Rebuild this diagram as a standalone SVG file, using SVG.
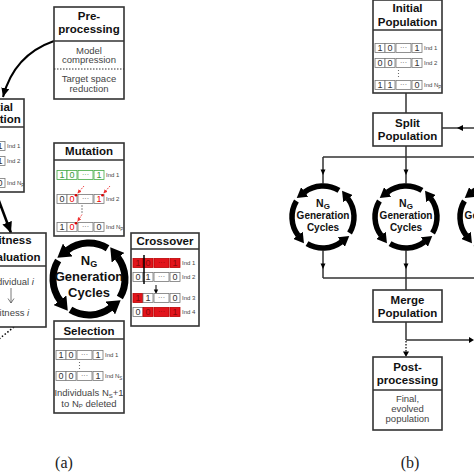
<svg xmlns="http://www.w3.org/2000/svg" width="474" height="474" viewBox="0 0 474 474">
<style>
.box{fill:#fff;stroke:#333;stroke-width:1.6}
.dv{stroke:#333;stroke-width:1.5}
.hd{font-family:"Liberation Sans",Arial,sans-serif;font-weight:bold;font-size:11.5px;fill:#111;text-anchor:middle}
.sb{font-family:"Liberation Sans",Arial,sans-serif;font-size:9.5px;fill:#444;text-anchor:middle}
.c{fill:#fff;stroke:#777;stroke-width:0.8}
.cr{fill:#e2141c;stroke:#b00;stroke-width:0.8}
.cg{fill:#fff;stroke:#4a4;stroke-width:0.8}
.d{font-family:"Liberation Sans",Arial,sans-serif;font-size:9px;fill:#333;text-anchor:middle}
.dt{font-family:"Liberation Sans",Arial,sans-serif;font-size:7px;fill:#555;text-anchor:middle}
.dr{fill:#8a0a0a}
.dgn{fill:#3a9a3a}
.dred{fill:#e00}
.el{font-family:"Liberation Sans",Arial,sans-serif;font-size:6px;fill:#444}
.ln{fill:none;stroke:#333;stroke-width:1.5}
.cycL{fill:none;stroke:#000;stroke-width:7;marker-end:url(#hL)}
.cycR{fill:none;stroke:#000;stroke-width:5.5;marker-end:url(#hR)}
.ct{font-family:"Liberation Sans",Arial,sans-serif;font-weight:bold;fill:#111;text-anchor:middle}
.rdash{fill:none;stroke:#e33;stroke-width:0.9;stroke-dasharray:1.5,1;marker-end:url(#hRd)}
.vd{fill:#555}
.pl{font-family:"Liberation Serif","Times New Roman",serif;font-size:16px;fill:#222;text-anchor:middle}
</style>
<defs>
<marker id="hL" markerUnits="userSpaceOnUse" markerWidth="14" markerHeight="16" refX="0.5" refY="8" orient="auto"><path d="M0,0 L13,8 L0,16 z" fill="#000"/></marker>
<marker id="hR" markerUnits="userSpaceOnUse" markerWidth="11" markerHeight="12" refX="0.5" refY="6" orient="auto"><path d="M0,0 L10,6 L0,12 z" fill="#000"/></marker>
<marker id="hB" markerUnits="userSpaceOnUse" markerWidth="9" markerHeight="8" refX="9" refY="4" orient="auto"><path d="M0,0 L9,4 L0,8 z" fill="#000"/></marker>
<marker id="hT" markerUnits="userSpaceOnUse" markerWidth="11" markerHeight="10" refX="11" refY="5" orient="auto"><path d="M0,0 L11,5 L0,10 z" fill="#000"/></marker>
<marker id="hRd" markerUnits="userSpaceOnUse" markerWidth="4" markerHeight="4" refX="4" refY="2" orient="auto"><path d="M0,0 L4,2 L0,4 z" fill="#e33"/></marker>
</defs>

<g id="connectors">
<path d="M54,41 Q14,55 3,97" fill="none" stroke="#000" stroke-width="2" marker-end="url(#hB)"/>
<path d="M-4,193 L11,233" fill="none" stroke="#000" stroke-width="2.5" marker-end="url(#hT)"/>
<path d="M14,327 L-1,339" fill="none" stroke="#000" stroke-width="1.5" stroke-dasharray="1.5,2"/>
<path class="ln" d="M406,93 V113"/>
<path class="ln" d="M474,128 H442"/>
<polygon points="457,128 463,125 463,131" fill="#000"/>
<path class="ln" d="M406,146 V157 M323,157 H474 M323,157 V183.5 M406,157 V183.5"/>
<polygon points="320.5,169.5 325.5,169.5 323,175" fill="#000"/>
<polygon points="403.5,169.5 408.5,169.5 406,175" fill="#000"/>
<path class="ln" d="M323,250.5 V278 M406,250.5 V278 M323,278 H474 M406,278 V290"/>
<polygon points="320.5,263.5 325.5,263.5 323,269" fill="#000"/>
<polygon points="403.5,263.5 408.5,263.5 406,269" fill="#000"/>
<path class="ln" d="M406,322 V340 M406,340 H470"/>
<polygon points="469,337 474,340 469,343" fill="#000"/>
<path d="M406,341 V352" fill="none" stroke="#333" stroke-width="1.5" stroke-dasharray="1.5,1.5"/>
<polygon points="403,351.5 409,351.5 406,357" fill="#000"/>
</g>

<g id="preprocessing">
<rect class="box" x="54" y="7" width="70" height="92"/>
<line class="dv" x1="54" y1="41" x2="124" y2="41"/>
<text class="hd" x="89" y="20">Pre-</text>
<text class="hd" x="89" y="33">processing</text>
<text class="sb" x="89" y="53.5">Model</text>
<text class="sb" x="89" y="63">compression</text>
<line x1="54" y1="69" x2="124" y2="69" stroke="#333" stroke-width="1" stroke-dasharray="1.5,1.5"/>
<text class="sb" x="89" y="81.5">Target space</text>
<text class="sb" x="89" y="91.5">reduction</text>
</g>

<g id="initial-population-a">
<rect class="box" x="-44" y="99" width="68" height="93"/>
<line class="dv" x1="-44" y1="127" x2="24" y2="127"/>
<text class="hd" x="-2" y="111">Initial</text>
<text class="hd" x="-9" y="123">Population</text>
<g transform="translate(-42,141.5)">
<rect class="c" x="0" y="0" width="10" height="9"/><rect class="c" x="10" y="0" width="10" height="9"/><rect class="c" x="21" y="0" width="15" height="9"/><rect class="c" x="37" y="0" width="10" height="9"/>
<text class="d" x="5" y="7.8">1</text><text class="d" x="15" y="7.8">0</text><text class="dt" x="28.5" y="6.6">···</text><text class="d" x="42" y="7.8">1</text>
<text class="el" x="49" y="6.8">Ind 1</text>
</g>
<g transform="translate(-42,156.5)">
<rect class="c" x="0" y="0" width="10" height="9"/><rect class="c" x="10" y="0" width="10" height="9"/><rect class="c" x="21" y="0" width="15" height="9"/><rect class="c" x="37" y="0" width="10" height="9"/>
<text class="d" x="5" y="7.8">0</text><text class="d" x="15" y="7.8">0</text><text class="dt" x="28.5" y="6.6">···</text><text class="d" x="42" y="7.8">1</text>
<text class="el" x="49" y="6.8">Ind 2</text>
</g>
<g transform="translate(-42,178.5)">
<rect class="c" x="0" y="0" width="10" height="9"/><rect class="c" x="10" y="0" width="10" height="9"/><rect class="c" x="21" y="0" width="15" height="9"/><rect class="c" x="37" y="0" width="10" height="9"/>
<text class="d" x="5" y="7.8">1</text><text class="d" x="15" y="7.8">1</text><text class="dt" x="28.5" y="6.6">···</text><text class="d" x="42" y="7.8">0</text>
<text class="el" x="49" y="6.8">Ind N<tspan font-size="4.5" dy="1.5">P</tspan></text>
</g>
</g>

<g id="fitness-evaluation">
<rect class="box" x="-23" y="233" width="69" height="94"/>
<line class="dv" x1="-23" y1="266" x2="46" y2="266"/>
<text class="hd" x="11.5" y="244">Fitness</text>
<text class="hd" x="11.5" y="261">Evaluation</text>
<text class="sb" x="11.5" y="284.5">Individual <tspan font-style="italic">i</tspan></text>
<line x1="11" y1="288" x2="11" y2="303" stroke="#555" stroke-width="0.8"/>
<polyline points="8,298.5 11,303 14,298.5" fill="none" stroke="#555" stroke-width="0.8"/>
<text class="sb" x="11.5" y="315.5">Fitness <tspan font-style="italic">i</tspan></text>
</g>

<g id="mutation">
<rect class="box" x="54" y="143" width="70" height="93"/>
<line class="dv" x1="54" y1="160" x2="124" y2="160"/>
<text class="hd" x="89" y="155">Mutation</text>
<g transform="translate(57,170.5)">
<rect class="cg" x="0" y="0" width="10" height="9"/><rect class="cg" x="10" y="0" width="10" height="9"/><rect class="cg" x="21" y="0" width="15" height="9"/><rect class="cg" x="37" y="0" width="10" height="9"/>
<text class="d dgn" x="5" y="7.8">1</text><text class="d dgn" x="15" y="7.8">0</text><text class="dt dgn" x="28.5" y="6.6">···</text><text class="d dgn" x="42" y="7.8">1</text>
<text class="el" x="49" y="6.8">Ind 1</text>
</g>
<g transform="translate(57,194.5)">
<rect class="c" x="0" y="0" width="10" height="9"/><rect class="c" x="10" y="0" width="10" height="9"/><rect class="c" x="21" y="0" width="15" height="9"/><rect class="c" x="37" y="0" width="10" height="9"/>
<text class="d" x="5" y="7.8">0</text><text class="d dred" x="15" y="7.8">0</text><text class="dt" x="28.5" y="6.6">···</text><text class="d dred" x="42" y="7.8">1</text>
<text class="el" x="49" y="6.8">Ind 2</text>
<circle cx="19" cy="0.8" r="1.3" fill="#d00"/>
<circle cx="45.5" cy="0.8" r="1.3" fill="#d00"/>
</g>
<path class="rdash" d="M84,186 L77.5,193.5"/>
<path class="rdash" d="M110,186 L103.5,193.5"/>
<circle class="vd" cx="82" cy="206" r="0.7"/><circle class="vd" cx="82" cy="209" r="0.7"/><circle class="vd" cx="82" cy="212" r="0.7"/>
<path class="rdash" d="M82,214.5 L77.5,221.5"/>
<g transform="translate(57,222.5)">
<rect class="c" x="0" y="0" width="10" height="9"/><rect class="c" x="10" y="0" width="10" height="9"/><rect class="c" x="21" y="0" width="15" height="9"/><rect class="c" x="37" y="0" width="10" height="9"/>
<text class="d" x="5" y="7.8">1</text><text class="d dred" x="15" y="7.8">0</text><text class="dt" x="28.5" y="6.6">···</text><text class="d" x="42" y="7.8">0</text>
<text class="el" x="49" y="6.8">Ind N<tspan font-size="4.5" dy="1.5">P</tspan></text>
<circle cx="19" cy="0.8" r="1.3" fill="#d00"/>
</g>
</g>

<g id="generation-cycles-a" transform="translate(89,279)">
<path class="cycL" d="M18.54,-30.86 A36,36 0 0 0 -21.67,-28.75"/>
<path class="cycL" d="M-30.86,-18.54 A36,36 0 0 0 -28.75,21.67"/>
<path class="cycL" d="M-18.54,30.86 A36,36 0 0 0 21.67,28.75"/>
<path class="cycL" d="M30.86,18.54 A36,36 0 0 0 28.75,-21.67"/>
<text class="ct" font-size="13" x="0" y="-14">N<tspan font-size="9" dy="2">G</tspan></text>
<text class="ct" font-size="13" x="0" y="2">Generation</text>
<text class="ct" font-size="13" x="0" y="18">Cycles</text>
</g>

<g id="crossover">
<rect class="box" x="131" y="233" width="68" height="93"/>
<line class="dv" x1="131" y1="249" x2="199" y2="249"/>
<text class="hd" x="165" y="245">Crossover</text>
<g transform="translate(133,258.5)">
<rect class="cr" x="0" y="0" width="10" height="9"/><rect class="cr" x="10" y="0" width="10" height="9"/><rect class="cr" x="21" y="0" width="15" height="9"/><rect class="cr" x="37" y="0" width="10" height="9"/>
<text class="d dr" x="5" y="7.8">1</text><text class="d dr" x="15" y="7.8">0</text><text class="dt dr" x="28.5" y="6.6">···</text><text class="d dr" x="42" y="7.8">1</text>
<text class="el" x="49" y="6.8">Ind 1</text>
</g>
<g transform="translate(133,272.5)">
<rect class="c" x="0" y="0" width="10" height="9"/><rect class="c" x="10" y="0" width="10" height="9"/><rect class="c" x="21" y="0" width="15" height="9"/><rect class="c" x="37" y="0" width="10" height="9"/>
<text class="d" x="5" y="7.8">0</text><text class="d" x="15" y="7.8">1</text><text class="dt" x="28.5" y="6.6">···</text><text class="d" x="42" y="7.8">0</text>
<text class="el" x="49" y="6.8">Ind 2</text>
</g>
<line x1="144" y1="255" x2="144" y2="284" stroke="#000" stroke-width="1.5"/>
<line x1="156" y1="285" x2="156" y2="290" stroke="#000" stroke-width="1"/>
<polygon points="153.8,289.5 158.2,289.5 156,294" fill="#000"/>
<g transform="translate(133,293.5)">
<rect class="cr" x="0" y="0" width="10" height="9"/><rect class="c" x="10" y="0" width="10" height="9"/><rect class="c" x="21" y="0" width="15" height="9"/><rect class="c" x="37" y="0" width="10" height="9"/>
<text class="d dr" x="5" y="7.8">1</text><text class="d" x="15" y="7.8">1</text><text class="dt" x="28.5" y="6.6">···</text><text class="d" x="42" y="7.8">0</text>
<text class="el" x="49" y="6.8">Ind 3</text>
</g>
<g transform="translate(133,307.5)">
<rect class="c" x="0" y="0" width="10" height="9"/><rect class="cr" x="10" y="0" width="10" height="9"/><rect class="cr" x="21" y="0" width="15" height="9"/><rect class="cr" x="37" y="0" width="10" height="9"/>
<text class="d" x="5" y="7.8">0</text><text class="d dr" x="15" y="7.8">0</text><text class="dt dr" x="28.5" y="6.6">···</text><text class="d dr" x="42" y="7.8">1</text>
<text class="el" x="49" y="6.8">Ind 4</text>
</g>
</g>

<g id="selection">
<rect class="box" x="54" y="321" width="70" height="92"/>
<line class="dv" x1="54" y1="339" x2="124" y2="339"/>
<text class="hd" x="89" y="335">Selection</text>
<g transform="translate(56,350.5)">
<rect class="c" x="0" y="0" width="10" height="9"/><rect class="c" x="10" y="0" width="10" height="9"/><rect class="c" x="21" y="0" width="15" height="9"/><rect class="c" x="37" y="0" width="10" height="9"/>
<text class="d" x="5" y="7.8">1</text><text class="d" x="15" y="7.8">0</text><text class="dt" x="28.5" y="6.6">···</text><text class="d" x="42" y="7.8">1</text>
<text class="el" x="49" y="6.8">Ind 1</text>
</g>
<circle class="vd" cx="79.5" cy="362.5" r="0.6"/><circle class="vd" cx="79.5" cy="365.5" r="0.6"/><circle class="vd" cx="79.5" cy="368.5" r="0.6"/>
<g transform="translate(56,371.5)">
<rect class="c" x="0" y="0" width="10" height="9"/><rect class="c" x="10" y="0" width="10" height="9"/><rect class="c" x="21" y="0" width="15" height="9"/><rect class="c" x="37" y="0" width="10" height="9"/>
<text class="d" x="5" y="7.8">0</text><text class="d" x="15" y="7.8">0</text><text class="dt" x="28.5" y="6.6">···</text><text class="d" x="42" y="7.8">1</text>
<text class="el" x="49" y="6.8">Ind N<tspan font-size="4.5" dy="1.5">S</tspan></text>
</g>
<text class="sb" font-size="8.5" x="89" y="396">Individuals N<tspan font-size="6" dy="1.5">S</tspan><tspan dy="-1.5">+1</tspan></text>
<text class="sb" font-size="8.5" x="89" y="406.5">to N<tspan font-size="6" dy="1.5">P</tspan><tspan dy="-1.5"> deleted</tspan></text>
</g>

<text class="pl" x="64" y="468">(a)</text>

<g id="initial-population-b">
<rect class="box" x="373" y="0" width="69" height="93"/>
<line class="dv" x1="373" y1="30" x2="442" y2="30"/>
<text class="hd" x="407.5" y="12">Initial</text>
<text class="hd" x="407.5" y="25.5">Population</text>
<g transform="translate(375,43.5)">
<rect class="c" x="0" y="0" width="10" height="9"/><rect class="c" x="10" y="0" width="10" height="9"/><rect class="c" x="21" y="0" width="15" height="9"/><rect class="c" x="37" y="0" width="10" height="9"/>
<text class="d" x="5" y="7.8">1</text><text class="d" x="15" y="7.8">0</text><text class="dt" x="28.5" y="6.6">···</text><text class="d" x="42" y="7.8">1</text>
<text class="el" x="49" y="6.8">Ind 1</text>
</g>
<g transform="translate(375,58.5)">
<rect class="c" x="0" y="0" width="10" height="9"/><rect class="c" x="10" y="0" width="10" height="9"/><rect class="c" x="21" y="0" width="15" height="9"/><rect class="c" x="37" y="0" width="10" height="9"/>
<text class="d" x="5" y="7.8">0</text><text class="d" x="15" y="7.8">0</text><text class="dt" x="28.5" y="6.6">···</text><text class="d" x="42" y="7.8">1</text>
<text class="el" x="49" y="6.8">Ind 2</text>
</g>
<circle class="vd" cx="398.5" cy="70.5" r="0.6"/><circle class="vd" cx="398.5" cy="73.5" r="0.6"/><circle class="vd" cx="398.5" cy="76.5" r="0.6"/>
<g transform="translate(375,80.5)">
<rect class="c" x="0" y="0" width="10" height="9"/><rect class="c" x="10" y="0" width="10" height="9"/><rect class="c" x="21" y="0" width="15" height="9"/><rect class="c" x="37" y="0" width="10" height="9"/>
<text class="d" x="5" y="7.8">1</text><text class="d" x="15" y="7.8">1</text><text class="dt" x="28.5" y="6.6">···</text><text class="d" x="42" y="7.8">0</text>
<text class="el" x="49" y="6.8">Ind N<tspan font-size="4.5" dy="1.5">P</tspan></text>
</g>
</g>

<g id="split-population">
<rect class="box" x="373" y="113" width="69" height="33"/>
<text class="hd" x="407.5" y="127">Split</text>
<text class="hd" x="407.5" y="140">Population</text>
</g>

<g id="generation-cycles-b1" transform="translate(323,217)">
<path class="cycR" d="M15.97,-26.57 A31,31 0 0 0 -18.66,-24.76"/>
<path class="cycR" d="M-26.57,-15.97 A31,31 0 0 0 -24.76,18.66"/>
<path class="cycR" d="M-15.97,26.57 A31,31 0 0 0 18.66,24.76"/>
<path class="cycR" d="M26.57,15.97 A31,31 0 0 0 24.76,-18.66"/>
<text class="ct" font-size="10.5" x="0" y="-10">N<tspan font-size="8" dy="1.5">G</tspan></text>
<text class="ct" font-size="10" x="0" y="1.5">Generation</text>
<text class="ct" font-size="10" x="0" y="13.5">Cycles</text>
</g>

<g id="generation-cycles-b2" transform="translate(406,217)">
<path class="cycR" d="M15.97,-26.57 A31,31 0 0 0 -18.66,-24.76"/>
<path class="cycR" d="M-26.57,-15.97 A31,31 0 0 0 -24.76,18.66"/>
<path class="cycR" d="M-15.97,26.57 A31,31 0 0 0 18.66,24.76"/>
<path class="cycR" d="M26.57,15.97 A31,31 0 0 0 24.76,-18.66"/>
<text class="ct" font-size="10.5" x="0" y="-10">N<tspan font-size="8" dy="1.5">G</tspan></text>
<text class="ct" font-size="10" x="0" y="1.5">Generation</text>
<text class="ct" font-size="10" x="0" y="13.5">Cycles</text>
</g>

<g id="generation-cycles-b3" transform="translate(491,217)">
<path class="cycR" d="M15.97,-26.57 A31,31 0 0 0 -18.66,-24.76"/>
<path class="cycR" d="M-26.57,-15.97 A31,31 0 0 0 -24.76,18.66"/>
<path class="cycR" d="M-15.97,26.57 A31,31 0 0 0 18.66,24.76"/>
<path class="cycR" d="M26.57,15.97 A31,31 0 0 0 24.76,-18.66"/>
<text class="ct" font-size="10.5" x="0" y="-10">N<tspan font-size="8" dy="1.5">G</tspan></text>
<text class="ct" font-size="10" x="0" y="1.5">Generation</text>
<text class="ct" font-size="10" x="0" y="13.5">Cycles</text>
</g>

<g id="merge-population">
<rect class="box" x="373" y="290" width="69" height="32"/>
<text class="hd" x="407.5" y="303.5">Merge</text>
<text class="hd" x="407.5" y="316.5">Population</text>
</g>

<g id="postprocessing">
<rect class="box" x="373" y="357" width="69" height="73"/>
<line class="dv" x1="373" y1="390" x2="442" y2="390"/>
<text class="hd" x="407.5" y="371">Post-</text>
<text class="hd" x="407.5" y="383.5">processing</text>
<text class="sb" x="407.5" y="402">Final,</text>
<text class="sb" x="407.5" y="412">evolved</text>
<text class="sb" x="407.5" y="421.5">population</text>
</g>

<text class="pl" x="410" y="468">(b)</text>
</svg>
